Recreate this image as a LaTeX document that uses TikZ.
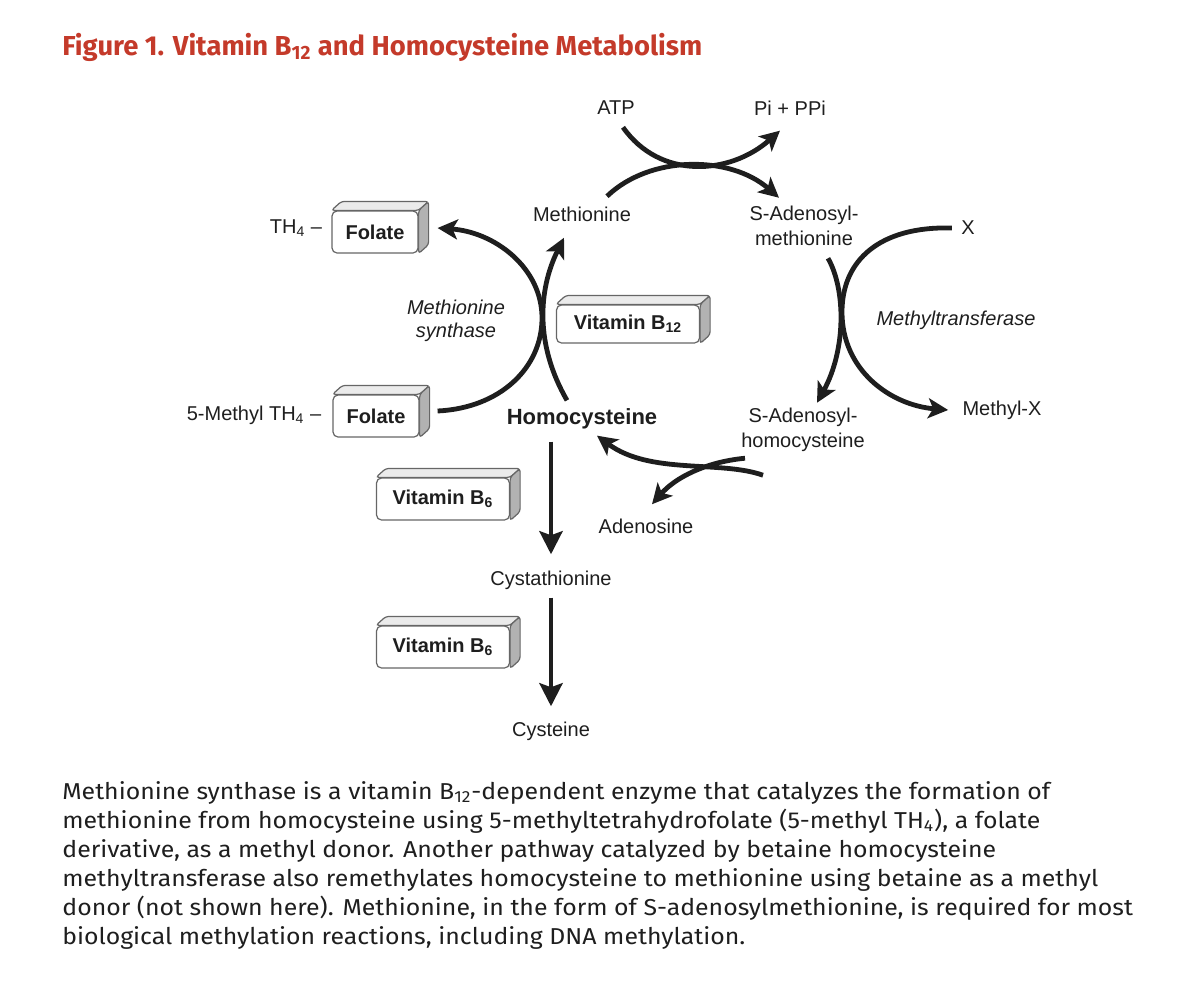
\documentclass[tikz,border=0pt]{standalone}
\usepackage{fontspec}
\setmainfont{Liberation Sans}
\newfontfamily\titlefont{Fira Sans}
\newfontfamily\capfont[FakeStretch=1.08]{Fira Sans}
\usepackage{tikz}
\usetikzlibrary{arrows.meta}
\usetikzlibrary{backgrounds}
\definecolor{figred}{RGB}{196,58,42}
\definecolor{ink}{RGB}{30,30,30}
\tikzset{
metab/.style = { inner sep = 0pt, text = ink, align = center, font = \fontsize{10}{12.5}\selectfont },
enzyme/.style = { metab, font = \fontsize{10}{11.5}\selectfont\itshape },
cofactor/.style = { rectangle, draw = black!60, fill = white, line width = 0.6pt, rounded corners = 2.5pt, inner sep = 0pt, text = ink, font = \fontsize{10}{12}\selectfont\bfseries },
top face/.style = { draw = black!60, fill = black!8, line width = 0.6pt, rounded corners = 1.5pt },
side face/.style = { draw = black!60, fill = black!30, line width = 0.6pt, rounded corners = 1.5pt },
flux/.style = { line width = 2.4pt, draw = ink, -{Stealth[length = 10pt, width = 10pt, inset = 2.5pt]} },
down flux/.style = { flux, -{Stealth[length = 11.5pt, width = 11.5pt, inset = 2pt]} },
}
\begin{document}
\begin{tikzpicture}[x=0.5pt, y=-0.5pt]
    \useasboundingbox (0,0) rectangle (1200,1002);
    \node[anchor=base west, inner sep=0pt, text=figred, font=\fontsize{13.7}{16}\titlefont\bfseries] (title) at (62,55) {Figure 1. Vitamin B\textsubscript{12} and Homocysteine Metabolism};
    % metabolites
    \node[metab] (atp) at (616,108) {ATP};
    \node[metab] (ppi) at (790,108) {Pi + PPi};
    \node[metab] (met) at (582,214) {Methionine};
    \node[metab] (sam) at (804,226) {S-Adenosyl-\\methionine};
    \node[metab] (x) at (968,228) {X};
    \node[metab] (thf) at (296,228) {TH\textsubscript{4} --};
    \node[enzyme] (ms) at (456,321) {Methionine\\synthase};
    \node[enzyme] (mt) at (956,320) {Methyltransferase};
    \node[metab] (mthf) at (254,415) {5-Methyl TH\textsubscript{4} --};
    \node[metab, font=\fontsize{11}{13}\selectfont\bfseries] (hcy) at (582,419) {Homocysteine};
    \node[metab] (sah) at (803,430) {S-Adenosyl-\\homocysteine};
    \node[metab] (mex) at (1002,410) {Methyl-X};
    \node[metab] (ado) at (646,526) {Adenosine};
    \node[metab] (cysta) at (551,580) {Cystathionine};
    \node[metab] (cys) at (551,731) {Cysteine};
    % cofactor boxes
    \node[cofactor, minimum width=43pt, minimum height=21pt] (folA) at (375,232) {Folate};
    \node[cofactor, minimum width=43pt, minimum height=21pt] (folB) at (376,416) {Folate};
    \node[cofactor, minimum width=71.5pt, minimum height=19pt] (vbtw) at (628,324) {Vitamin B\textsubscript{12}};
    \node[cofactor, minimum width=66.5pt, minimum height=21pt] (vbsixA) at (443,499) {Vitamin B\textsubscript{6}};
    \node[cofactor, minimum width=66.5pt, minimum height=21pt] (vbsixB) at (443,647) {Vitamin B\textsubscript{6}};
    \begin{scope}[on background layer]
      \foreach \b in {folA, folB, vbtw, vbsixA, vbsixB} {
        \filldraw[top face] (\b.north west) -- ++(5pt,4.5pt) -- ([shift={(5pt,4.5pt)}]\b.north east) -- (\b.north east) -- cycle;
        \filldraw[side face] (\b.north east) -- ++(5pt,4.5pt) -- ([shift={(5pt,4.5pt)}]\b.south east) -- (\b.south east) -- cycle;
      }
    \end{scope}
    % crossing points of the paired arcs
    \coordinate (mscross) at (542,318);
    \coordinate (mtcross) at (842,312);
    % reactions
    \draw[flux] ([xshift=3.5pt,yshift=-6pt]atp.south) .. controls (660,180) and (730,175) .. ([xshift=-5pt,yshift=-7.5pt]ppi.south);
    \draw[flux] ([xshift=12.5pt,yshift=5pt]met.north) .. controls (650,155) and (730,155) .. ([xshift=-12.5pt,yshift=4pt]sam.north);
    \draw[flux] ([xshift=12pt,yshift=-6pt]sam.south) .. controls (846,290) and (846,350) .. ([xshift=7pt,yshift=2.5pt]sah.north);
    \draw[flux] ([xshift=-4.5pt]x.west) .. controls (880,226) and (842,260) .. (mtcross) .. controls (842,370) and (890,405) .. ([xshift=-7pt]mex.west);
    \draw[flux] ([xshift=9pt,yshift=2.5pt]folB.east) .. controls (500,408) and (542,368) .. (mscross) .. controls (542,268) and (495,232) .. ([xshift=9.5pt,yshift=2pt]folA.east);
    \draw[flux] ([xshift=-7.5pt,yshift=4pt]hcy.north) .. controls (535,345) and (538,290) .. ([xshift=-9pt,yshift=-8pt]met.south);
    \draw[flux] ([xshift=-20pt,yshift=-11.5pt]sah.south) .. controls (720,460) and (650,475) .. ([xshift=7.5pt,yshift=-3pt]hcy.south);
    \draw[flux] ([xshift=-29pt,yshift=-3pt]sah.south) .. controls (705,462) and (675,478) .. ([xshift=3pt,yshift=7pt]ado.north);
    \draw[down flux] ([xshift=-15.5pt,yshift=-6pt]hcy.south) -- ([yshift=8pt]cysta.north);
    \draw[down flux] ([yshift=-4pt]cysta.south) -- ([yshift=7.5pt]cys.north);
    % caption
    \node[anchor=north west, inner sep=0pt, align=left, text=ink, font=\fontsize{11.5}{14.5}\capfont] (caption) at (62,781) {Methionine synthase is a vitamin B\textsubscript{12}-dependent enzyme that catalyzes the formation of\\
methionine from homocysteine using 5-methyltetrahydrofolate (5-methyl TH\textsubscript{4}), a folate\\
derivative, as a methyl donor. Another pathway catalyzed by betaine homocysteine\\
methyltransferase also remethylates homocysteine to methionine using betaine as a methyl\\
donor (not shown here). Methionine, in the form of S-adenosylmethionine, is required for most\\
biological methylation reactions, including DNA methylation.};
\end{tikzpicture}
\end{document}
